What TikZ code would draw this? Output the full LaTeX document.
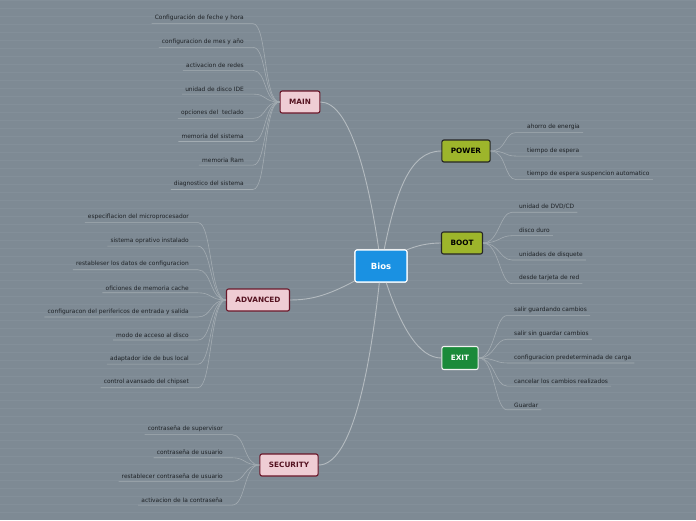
\documentclass[tikz,border=0pt]{standalone}
\usepackage{fontspec}
\setmainfont{DejaVu Sans}
\usetikzlibrary{calc}
\definecolor{bg}{HTML}{7E8A94}
\definecolor{brick}{HTML}{838F99}
\definecolor{link}{HTML}{B4BBC0}
\definecolor{leafline}{HTML}{A3ACB2}
\definecolor{pinkf}{HTML}{EFCDD4}
\definecolor{pinkd}{HTML}{6A1628}
\definecolor{lime}{HTML}{9DB52B}
\definecolor{greenf}{HTML}{1B8A3A}
\definecolor{bluef}{HTML}{1A91E2}
\definecolor{txt}{HTML}{1E2226}
\tikzset{
  x=1pt,y=-1pt,
  topic/.style={rounded corners=2pt,line width=1.1pt,font=\bfseries\fontsize{7.3}{8}\selectfont,minimum height=22pt,inner xsep=9pt},
  pinktopic/.style={topic,fill=pinkf,draw=pinkd,text=pinkd!80!black},
  limetopic/.style={topic,fill=lime,draw=black!85,text=black},
  leaf/.style={font=\fontsize{5.9}{7}\selectfont,text=txt,inner xsep=3pt,inner ysep=2.5pt},
  link/.style={draw=link,line width=0.9pt},
  leafl/.style={draw=leafline,line width=0.6pt}
}
\begin{document}
\begin{tikzpicture}
\fill[bg] (0,0) rectangle (696,520);
\useasboundingbox (0,0) rectangle (696,520);
\foreach \r in {0,...,64}{
  \draw[brick,line width=0.4pt] (0,\r*8) -- (696,\r*8);
}
% topics
\node[pinktopic] (main) at (300,102) {MAIN};
\node[pinktopic] (adv) at (258,300) {ADVANCED};
\node[pinktopic] (sec) at (289,465) {SECURITY};
\node[limetopic] (power) at (466,151) {POWER};
\node[limetopic] (boot) at (462,243) {BOOT};
\node[topic,fill=greenf,draw=white!90!gray,text=white,minimum height=23pt] (exit) at (460,358) {EXIT};
\node[topic,fill=bluef,draw=white,text=white,minimum height=32pt,minimum width=52pt,font=\bfseries\fontsize{8.5}{9}\selectfont] (bios) at (381,266) {Bios};
% main links
\draw[link] (bios.center) .. controls (370,180) and (350,102) .. (main.east);
\draw[link] (bios.center) .. controls (340,290) and (320,300) .. (adv.east);
\draw[link] (bios.center) .. controls (370,380) and (350,465) .. (sec.east);
\draw[link] (bios.center) .. controls (395,190) and (410,151) .. (power.west);
\draw[link] (bios.center) .. controls (400,250) and (420,243) .. (boot.west);
\draw[link] (bios.center) .. controls (400,330) and (420,358) .. (exit.west);
\node[topic,fill=bluef,draw=white,text=white,minimum height=32pt,minimum width=52pt,font=\bfseries\fontsize{8.5}{9}\selectfont] at (381,266) {Bios};
% left leaves
\foreach \t [count=\i] in {Configuración de feche y hora,configuracion de mes y año,activacion de redes,unidad de disco IDE,opciones del \ teclado,memoria del sistema,memoria Ram,diagnostico del sistema}{
  \pgfmathsetmacro\yy{18+23.7*(\i-1)}
  \node[leaf,anchor=east] (ml\i) at (247,\yy) {\t};
  \draw[leafl] (ml\i.south west) -- ($(ml\i.south east)+(6,0)$) .. controls +(14,0) and +(-16,0) .. (main.west);
}
\foreach \t [count=\i] in {especiflacion del microprocesador,sistema oprativo instalado,restableser los datos de configuracion,oficiones de memoria cache,configuracon del perifericos de entrada y salida,modo de acceso al disco,adaptador ide de bus local,control avansado del chipset}{
  \pgfmathsetmacro\yy{217+23.6*(\i-1)}
  \node[leaf,anchor=east] (al\i) at (192,\yy) {\t};
  \draw[leafl] (al\i.south west) -- ($(al\i.south east)+(6,0)$) .. controls +(14,0) and +(-16,0) .. (adv.west);
}
\foreach \t [count=\i] in {contraseña de supervisor,contraseña de usuario,restablecer contraseña de usuario,activacion de la contraseña}{
  \pgfmathsetmacro\yy{429+23.7*(\i-1)}
  \node[leaf,anchor=east] (sl\i) at (226,\yy) {\t};
  \draw[leafl] (sl\i.south west) -- ($(sl\i.south east)+(6,0)$) .. controls +(14,0) and +(-16,0) .. (sec.west);
}
% right leaves
\foreach \t [count=\i] in {ahorro de energia,tiempo de espera,tiempo de espera suspencion automatico}{
  \pgfmathsetmacro\yy{127+23.5*(\i-1)}
  \node[leaf,anchor=west] (pl\i) at (524,\yy) {\t};
  \draw[leafl] (pl\i.south east) -- ($(pl\i.south west)+(-8,0)$) .. controls +(-12,0) and +(16,0) .. (power.east);
}
\foreach \t [count=\i] in {unidad de DVD/CD,disco duro,unidades de disquete,desde tarjeta de red}{
  \pgfmathsetmacro\yy{207+23.7*(\i-1)}
  \node[leaf,anchor=west] (bl\i) at (516,\yy) {\t};
  \draw[leafl] (bl\i.south east) -- ($(bl\i.south west)+(-4,0)$) .. controls +(-12,0) and +(16,0) .. (boot.east);
}
\foreach \t [count=\i] in {salir guardando cambios,salir sin guardar cambios,configuracion predeterminada de carga,cancelar los cambios realizados,Guardar}{
  \pgfmathsetmacro\yy{310+23.7*(\i-1)}
  \node[leaf,anchor=west] (el\i) at (511,\yy) {\t};
  \draw[leafl] (el\i.south east) -- ($(el\i.south west)+(-4,0)$) .. controls +(-12,0) and +(16,0) .. (exit.east);
}
\end{tikzpicture}
\end{document}
